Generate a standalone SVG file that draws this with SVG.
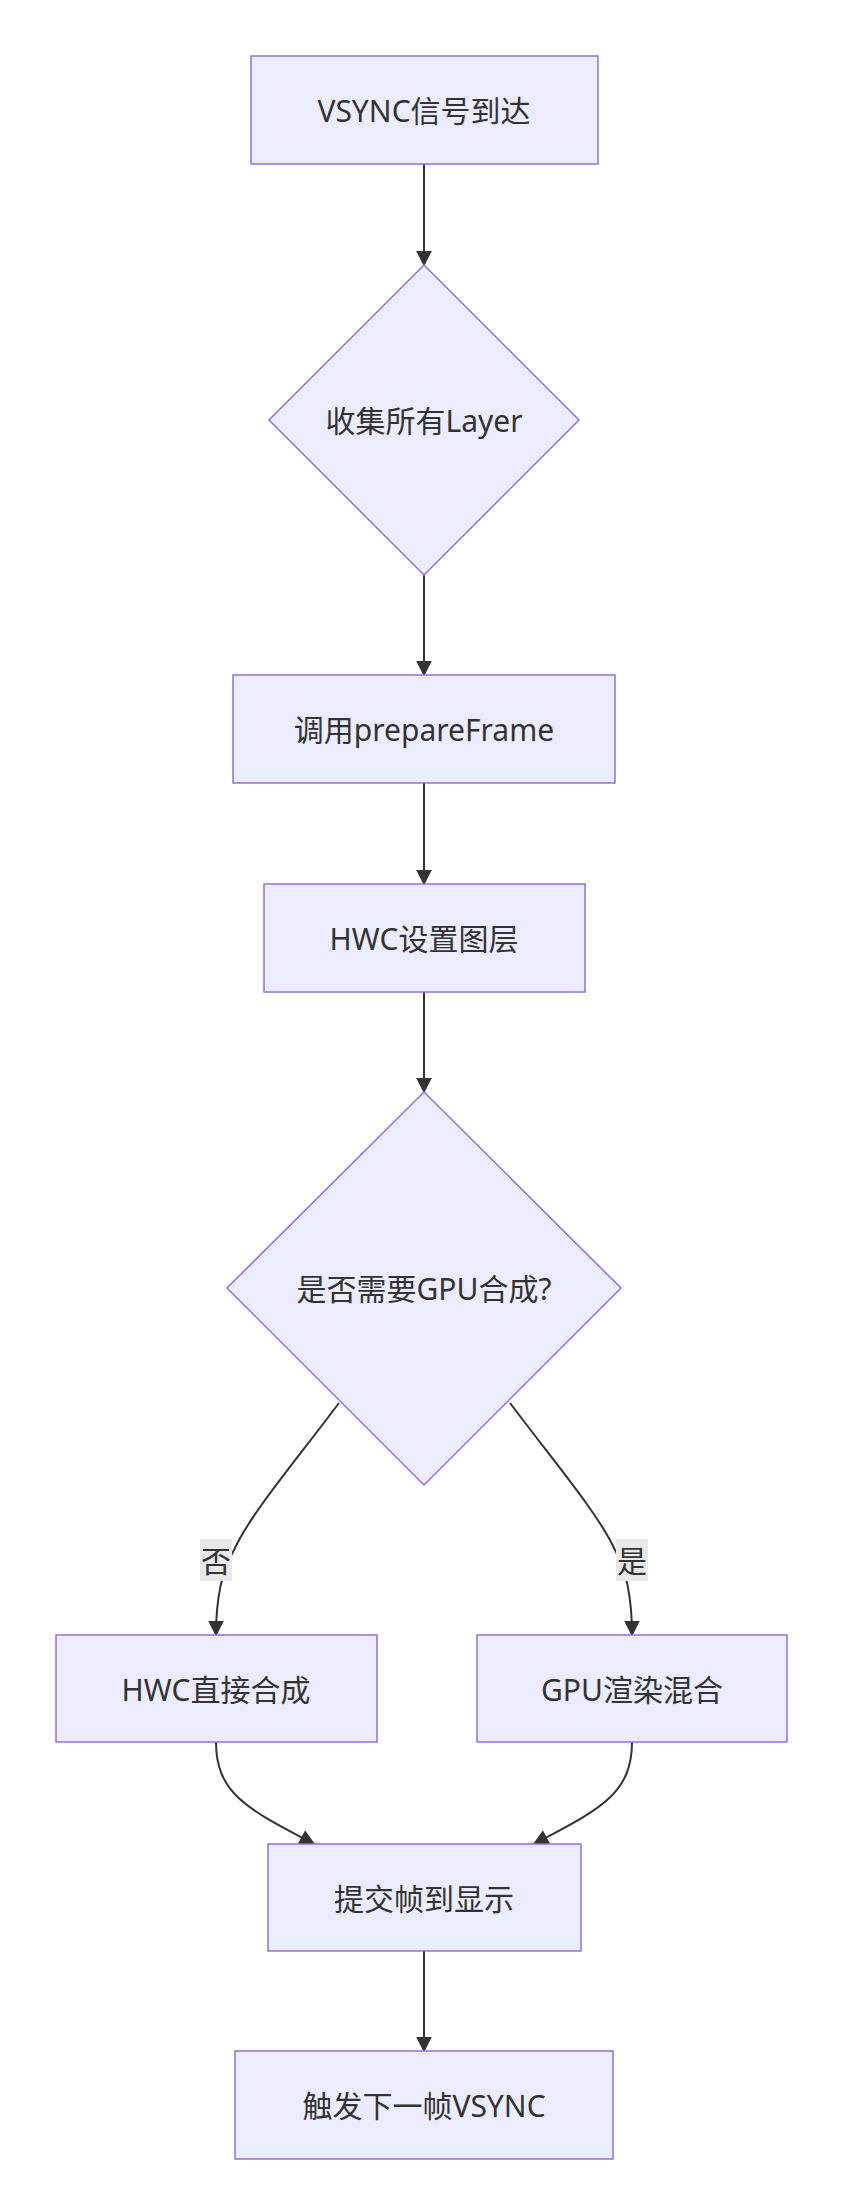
<svg xmlns="http://www.w3.org/2000/svg" width="842" height="2212" viewBox="0 0 842 2212">
<style>
.n{fill:#ECECFF;stroke:#9370DB;stroke-width:1.5}
.t{font-family:"Noto Sans","Noto Sans CJK SC",sans-serif;font-size:30px;fill:#333;text-anchor:middle;dominant-baseline:central}
.e{fill:none;stroke:#333;stroke-width:2;marker-end:url(#a)}
.lb{fill:#e8e8e8}
</style>
<defs><marker id="a" viewBox="0 0 10 10" refX="9" refY="5" markerWidth="8" markerHeight="8" orient="auto"><path d="M0,0L10,5L0,10z" fill="#333"/></marker></defs>
<rect width="842" height="2212" fill="#fff"/>
<g id="connectors">
<path class="e" d="M424,164V265"/>
<path class="e" d="M424,575V675"/>
<path class="e" d="M424,783V884"/>
<path class="e" d="M424,992V1092"/>
<path class="e" d="M339,1403C290,1468 250,1515 234,1550Q216,1580 216,1635"/>
<path class="e" d="M510,1403C559,1468 599,1515 615,1550Q632,1580 632,1635"/>
<path class="e" d="M216,1742C216,1795 250,1810 314,1844"/>
<path class="e" d="M632,1742C632,1795 598,1810 534,1844"/>
<path class="e" d="M424,1951V2051"/>
<rect class="lb" x="200" y="1539" width="32" height="42"/><text class="t" x="216" y="1560">否</text>
<rect class="lb" x="616" y="1539" width="32" height="42"/><text class="t" x="632" y="1560">是</text>
</g>
<g id="n1"><rect class="n" x="251" y="56" width="347" height="108"/><text class="t" x="424" y="110">VSYNC信号到达</text></g>
<g id="n2"><polygon class="n" points="424,265 579,420 424,575 269,420"/><text class="t" x="424" y="420">收集所有Layer</text></g>
<g id="n3"><rect class="n" x="233" y="675" width="382" height="108"/><text class="t" x="424" y="729">调用prepareFrame</text></g>
<g id="n4"><rect class="n" x="264" y="884" width="321" height="108"/><text class="t" x="424" y="938">HWC设置图层</text></g>
<g id="n5"><polygon class="n" points="424,1092 621,1288 424,1485 227,1288"/><text class="t" x="424" y="1288">是否需要GPU合成?</text></g>
<g id="n6"><rect class="n" x="56" y="1635" width="321" height="107"/><text class="t" x="216" y="1689">HWC直接合成</text></g>
<g id="n7"><rect class="n" x="477" y="1635" width="310" height="107"/><text class="t" x="632" y="1689">GPU渲染混合</text></g>
<g id="n8"><rect class="n" x="268" y="1844" width="313" height="107"/><text class="t" x="424" y="1898">提交帧到显示</text></g>
<g id="n9"><rect class="n" x="235" y="2051" width="378" height="108"/><text class="t" x="424" y="2105">触发下一帧VSYNC</text></g>
</svg>
